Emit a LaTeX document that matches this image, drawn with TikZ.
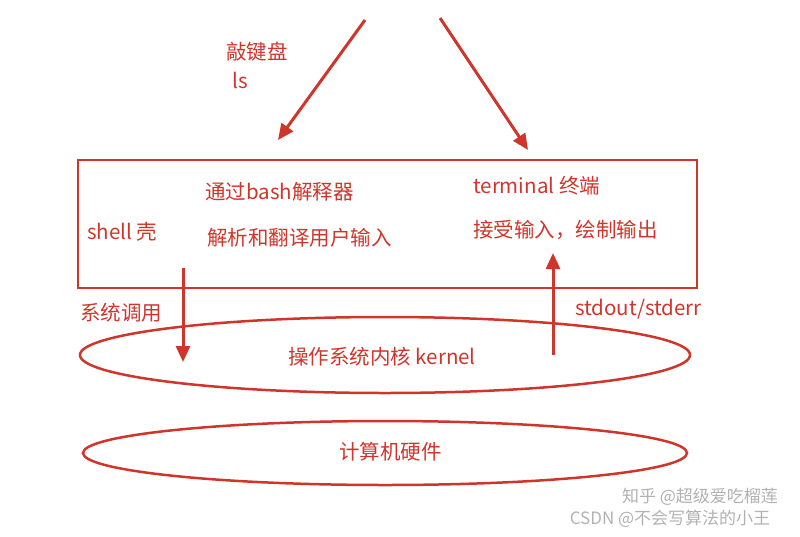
\documentclass[tikz,border=0pt]{standalone}
\usepackage{fontspec}
\setmainfont{Noto Sans CJK SC}
\usetikzlibrary{arrows.meta}
\definecolor{rd}{HTML}{D0352B}
\begin{document}
\begin{tikzpicture}[x=1pt,y=-1pt,
  lbl/.style={text=rd,font=\fontsize{20.5}{24}\selectfont,inner sep=0,anchor=west},
  shape line/.style={draw=rd,line width=2.5pt},
  arr/.style={draw=rd,line width=3pt,-{Triangle[length=16pt,width=14pt]}},
  wm/.style={text=gray!60,font=\fontsize{17}{20}\selectfont,inner sep=0}]
\useasboundingbox (0,0) rectangle (800,536);
\draw[shape line] (78,160) rectangle (697,288);
\draw[shape line] (385,355) ellipse [x radius=305, y radius=38];
\draw[shape line] (385,453) ellipse [x radius=302, y radius=32];
\coordinate (a1) at (365,20); \coordinate (a2) at (278,140);
\coordinate (b1) at (440,18); \coordinate (b2) at (528,150);
\coordinate (c1) at (183,268); \coordinate (c2) at (183,362);
\coordinate (d1) at (553,355); \coordinate (d2) at (553,253);
\draw[arr] (a1) -- (a2);
\draw[arr] (b1) -- (b2);
\draw[arr] (c1) -- (c2);
\draw[arr] (d1) -- (d2);
\node[lbl] (t1) at (226,52) {敲键盘};
\node[lbl] (t2) at (232,80) {ls};
\node[lbl] (t3) at (87,232) {shell 壳};
\node[lbl] (t4) at (205,192) {通过bash解释器};
\node[lbl] (t5) at (207,238) {解析和翻译用户输入};
\node[lbl] (t6) at (473,186) {terminal 终端};
\node[lbl] (t7) at (473,230) {接受输入，绘制输出};
\node[lbl] (t8) at (80,313) {系统调用};
\node[lbl] (t9) at (575,309) {stdout/stderr};
\node[lbl] (t10) at (288,357) {操作系统内核 kernel};
\node[lbl] (t11) at (339,452) {计算机硬件};
\node[wm] (w1) at (700,497) {知乎 @超级爱吃榴莲};
\node[wm] (w2) at (670,519) {CSDN @不会写算法的小王};
\end{tikzpicture}
\end{document}
